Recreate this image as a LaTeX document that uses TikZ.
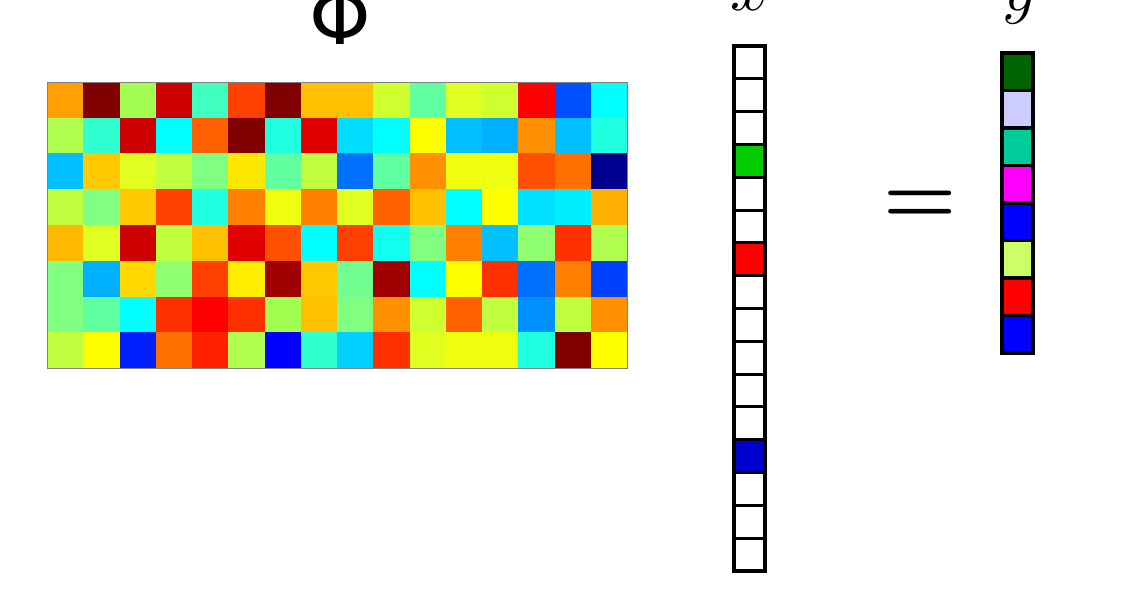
\documentclass[tikz,border=0pt]{standalone}
\usepackage{fontspec}
\usepackage{xcolor}
\newfontfamily\phifont{DejaVu Sans}

\definecolor{xgreen}{HTML}{00CC00}
\definecolor{xred}{HTML}{FF0000}
\definecolor{xblue}{HTML}{0000CC}
\definecolor{ydkgreen}{HTML}{006400}
\definecolor{ylav}{HTML}{CCCCFF}
\definecolor{yteal}{HTML}{00CC99}
\definecolor{ymag}{HTML}{FF00FF}
\definecolor{yblue}{HTML}{0000FF}
\definecolor{ylime}{HTML}{CCFF66}
\definecolor{yred}{HTML}{FF0000}

\tikzset{
  vecbox/.style={draw=black, line width=2.2pt},
  biglabel/.style={font=\Huge, scale=2, inner sep=0pt}
}

\begin{document}
\begin{tikzpicture}
    \useasboundingbox (0,0) rectangle (28.25,14.825);
    \def\cw{0.90625}
    \def\ch{0.89375}
    \def\xh{0.8203}
    \def\yh{0.9375}

    % Measurement matrix (8 x 16 random entries)
    \begin{scope}[shift={(1.175,12.775)}]
    \foreach \row [count=\j from 0] in {
      {FFA000,800000,A0FF50,CC0000,40FFC0,FF4000,800000,FFC000,FFC000,D0FF30,60FFA0,E0FF20,D0FF30,FF0000,0050FF,00FFFF},
      {B0FF50,30FFD0,CC0000,00FFFF,FF6000,800000,20FFE0,E00000,00DDFF,00FFFF,FFFF00,00C0FF,00B0FF,FF9000,00C0FF,20FFE0},
      {00C0FF,FFC800,E0FF20,C0FF40,80FF80,FFE800,60FFA0,C0FF40,0070FF,60FFA0,FF9000,F0FF10,F0FF10,FF5000,FF7000,000090},
      {C0FF40,80FF80,FFC800,FF4000,20FFE0,FF8000,F0FF10,FF8000,E0FF20,FF6000,FFC000,00FFFF,FFFF00,00E0FF,00EEFF,FFB000},
      {FFB800,E0FF20,CC0000,C0FF40,FFC000,E00000,FF5000,00FFFF,FF4000,10FFEE,80FF80,FF8000,00C0FF,90FF70,FF3000,B0FF50},
      {80FF80,00B0FF,FFD800,90FF70,FF4000,FFEE00,A00000,FFC800,70FF90,A00000,00FFFF,FFFF00,FF3000,0070FF,FF8000,0040FF},
      {80FF80,60FFA0,00FFFF,FF3000,FF0000,FF3000,A0FF50,FFC000,80FF80,FF9000,D0FF30,FF6000,C0FF40,0090FF,C0FF40,FF9000},
      {C0FF40,FFFF00,0020FF,FF7000,FF2000,B0FF50,0000FF,30FFD0,00D0FF,FF3000,E0FF20,F0FF10,F0FF10,20FFE0,800000,FFFF00}}{
      \foreach \c [count=\i from 0] in \row {
        \definecolor{cell}{HTML}{\c}
        \fill[cell] (\i*\cw,-\j*\ch) rectangle ++(\cw,-\ch);
      }
    }
    \draw[gray, line width=0.4pt] (0,0) rectangle (16*\cw,-8*\ch);
    \end{scope}

    % Sparse signal x
    \foreach \c [count=\k from 0] in {white,white,white,xgreen,white,white,xred,white,white,white,white,white,xblue,white,white,white}{
      \filldraw[vecbox, fill=\c] (18.35,13.675-\k*\xh) rectangle ++(0.775,-\xh);
    }

    % Measurements y
    \foreach \c [count=\k from 0] in {ydkgreen,ylav,yteal,ymag,yblue,ylime,yred,yblue}{
      \filldraw[vecbox, fill=\c] (25.05,13.5-\k*\yh) rectangle ++(0.775,-\yh);
    }

    % Labels
    \node[biglabel, font=\Huge\phifont, scale=1.12, anchor=base] (phi) at (8.5,13.7) {Φ};
    \node[biglabel, anchor=base] (xlab) at (18.75,14.55) {$x$};
    \node[biglabel, anchor=base] (ylab) at (25.5,14.55) {$y$};
    \node[biglabel, font=\Huge\bfseries, scale=1.2] (eq) at (23.0,9.65) {=};
\end{tikzpicture}
\end{document}
